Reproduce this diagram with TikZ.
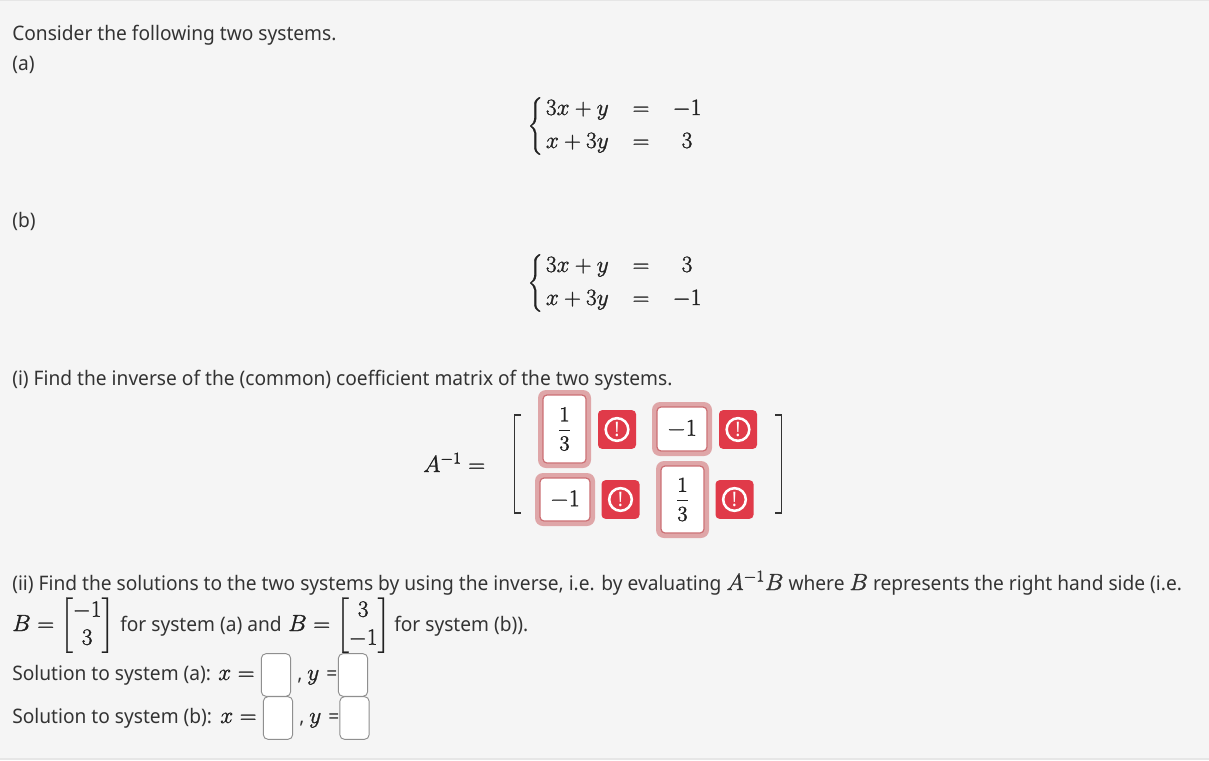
\documentclass[tikz,border=0pt]{standalone}
\usepackage{fix-cm}
\usepackage{amsmath}
\usepackage{fontspec}
\setmainfont[FakeStretch=0.958]{Noto Sans}
\usetikzlibrary{calc}
\definecolor{pagebg}{HTML}{F5F5F5}
\definecolor{rule}{HTML}{E6E6E6}
\definecolor{ink}{HTML}{333333}
\definecolor{minkc}{HTML}{222222}
\definecolor{halo}{HTML}{DFA6A8}
\definecolor{ringc}{HTML}{CC6F74}
\definecolor{alert}{HTML}{E03A49}
\definecolor{inputc}{HTML}{8F8F8F}
\newcommand{\mf}{\fontsize{17.5}{21}\selectfont}
\newcommand{\tf}{\fontsize{15}{18}\selectfont}
\newcommand{\fbon}{\special{pdf:code 2 Tr 0.22 w}}
\newcommand{\fboff}{\special{pdf:code 0 Tr}}
\newcommand{\hm}[1]{{\mf\fbon$#1$\fboff}}
\tikzset{
  txt/.style={anchor=base west,inner sep=0pt,text=ink,font=\tf},
  mth/.style={anchor=base,inner sep=0pt,text=minkc,font=\mf},
  mthw/.style={mth,anchor=base west},
  mthe/.style={mth,anchor=base east},
  bracenode/.style={anchor=center,inner sep=0pt,text=minkc,font=\fontsize{15}{18}\selectfont},
  haloshape/.style={fill=halo,draw=none,rounded corners=6pt,inner sep=0pt},
  cellbox/.style={fill=white,draw=ringc,line width=0.9pt,rounded corners=3pt,inner sep=0pt,text=minkc,font=\fontsize{18}{20}\selectfont},
  alertbox/.style={fill=alert,draw=none,rounded corners=3pt,inner sep=0pt,minimum width=28.5pt,minimum height=29pt},
  alertring/.style={draw=white,line width=1.9pt,circle,inner sep=0pt,minimum size=17pt,text=white,font=\fontsize{15}{15}\selectfont\bfseries},
  inputbox/.style={fill=white,draw=inputc,line width=0.7pt,rounded corners=3.5pt,inner sep=0pt,minimum width=22pt,minimum height=32pt},
  brk/.style={draw=ink,line width=1.3pt},
}
\newcommand{\cell}[6]{% name, x1,y1,x2,y2 inner, content
  \pgfmathsetmacro{\cw}{(#4-#2)*0.75}\pgfmathsetmacro{\ch}{(#5-#3)*0.75}
  \node[haloshape,minimum width=\cw pt+7.5pt,minimum height=\ch pt+7.5pt] (#1h) at ({(#2+#4)/2},{(#3+#5)/2}) {};
  \node[cellbox,minimum width=\cw pt,minimum height=\ch pt] (#1) at ({(#2+#4)/2},{(#3+#5)/2}) {#6};
}
\newcommand{\alertmark}[3]{% name, cx, cy
  \node[alertbox] (#1) at (#2,#3) {};
  \node[alertring] (#1r) at (#2,#3) {!};
}
\newcommand{\tallbrace}{\fbon$\left\{\vcenter{\hbox{\rule{0pt}{43pt}}}\right.$\fboff}
\newcommand{\third}{\fontsize{16}{19}\selectfont\fbon$\dfrac{1}{3}$\fboff}
\begin{document}
\begin{tikzpicture}[x=0.75pt,y=-0.75pt]
\useasboundingbox (0,0) rectangle (1209,760);
\fill[pagebg] (0,0) rectangle (1209,760);
\fill[rule] (0,0) rectangle (1209,1);
\fill[rule] (0,757.5) rectangle (1209,760);

\node[txt] (t1) at (12,40) {Consider the following two systems.};
\node[txt] (t2) at (12,70) {(a)};
\node[txt] (t3) at (12,227) {(b)};

% system a
\node[bracenode] (abr) at (536,126) {\tallbrace};
\node[mthe] (a11) at (609,115) {\hm{3x+y}};
\node[mth] (a12) at (641,115) {\hm{=}};
\node[mth] (a13) at (687,115) {\hm{-1}};
\node[mthe] (a21) at (609,148) {\hm{x+3y}};
\node[mth] (a22) at (641,148) {\hm{=}};
\node[mth] (a23) at (687,148) {\hm{3}};
% system b
\node[bracenode] (bbr) at (536,283) {\tallbrace};
\node[mthe] (b11) at (609,272) {\hm{3x+y}};
\node[mth] (b12) at (641,272) {\hm{=}};
\node[mth] (b13) at (687,272) {\hm{3}};
\node[mthe] (b21) at (609,305) {\hm{x+3y}};
\node[mth] (b22) at (641,305) {\hm{=}};
\node[mth] (b23) at (687,305) {\hm{-1}};

\node[txt] (t4) at (12,385) {(i) Find the inverse of the (common) coefficient matrix of the two systems.};

\node[mthw] (ainv) at (423,472) {\hm{A^{-1}=}};
\draw[brk] (521,415) -- (514.5,415) -- (514.5,513) -- (521,513);
\draw[brk] (775,415) -- (781.5,415) -- (781.5,513) -- (775,513);

\cell{c1}{543}{395}{586}{463}{\third}
\alertmark{e1}{617}{429.5}
\cell{c2}{657}{407}{707}{451}{\fbon$-1$\fboff}
\alertmark{e2}{738}{429.5}
\cell{c3}{540}{478}{590}{521}{\fbon$-1$\fboff}
\alertmark{e3}{620.5}{499.5}
\cell{c4}{661}{466}{704}{533}{\third}
\alertmark{e4}{734.5}{499.5}

\node[txt] (t5) at (12,590) {(ii) Find the solutions to the two systems by using the inverse, i.e. by evaluating \hm{A^{-1}B} where \hm{B} represents the right hand side (i.e.};
\node[mthw] (t6) at (12,631) {\hm{B=\begin{bmatrix}-1\\3\end{bmatrix}}};
\node[txt] (t7) at (120,631) {for system (a) and};
\node[mthw] (t7m) at (288,631) {\hm{B=\begin{bmatrix}3\\-1\end{bmatrix}}};
\node[txt] (t8) at (394,631) {for system (b)).};

\node[txt] (t9) at (12,680) {Solution to system (a):};
\node[mthw] (t9m) at (218,680) {\hm{x=}};
\node[inputbox] (i1) at (276,675) {};
\node[txt] (t10) at (297,680) {,};
\node[mthw] (t10m) at (307,680) {\hm{y}};
\node[txt] (t10e) at (326,680) {=};
\node[inputbox] (i2) at (353,675) {};
\node[txt] (t11) at (12,723) {Solution to system (b):};
\node[mthw] (t11m) at (220,723) {\hm{x=}};
\node[inputbox] (i3) at (278,718) {};
\node[txt] (t12) at (299,723) {,};
\node[mthw] (t12m) at (309,723) {\hm{y}};
\node[txt] (t12e) at (328,723) {=};
\node[inputbox] (i4) at (354.5,718) {};
\end{tikzpicture}
\end{document}
